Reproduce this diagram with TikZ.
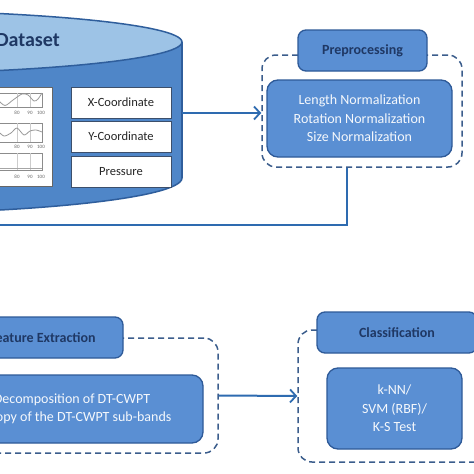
\documentclass[tikz,border=0pt]{standalone}
\usepackage{fontspec}
\setmainfont{Carlito}
\usetikzlibrary{arrows.meta}
\definecolor{cylbody}{HTML}{4F86C8}
\definecolor{cyltop}{HTML}{9DC3E6}
\definecolor{cylline}{HTML}{2F5E9C}
\definecolor{boxfill}{HTML}{5A8FD3}
\definecolor{boxline}{HTML}{2E5A98}
\definecolor{titletext}{HTML}{1F3864}
\definecolor{conn}{HTML}{2E6BB0}
\definecolor{dashc}{HTML}{3B5D8C}
\definecolor{coordline}{HTML}{3C4F6B}
\tikzset{
  dashbox/.style={draw=dashc, line width=1.5pt, dash pattern=on 6pt off 4pt, rounded corners=14pt, minimum width=#1},
  titlebox/.style={draw=boxline, fill=boxfill, line width=1.3pt, rounded corners=8pt, font=\fontsize{14}{17}\selectfont\bfseries, text=titletext},
  innerbox/.style={draw=boxline, fill=boxfill, line width=1.3pt, rounded corners=11pt, font=\fontsize{14}{18.5}\selectfont, text=white!94!boxfill, align=center},
  coordbox/.style={draw=coordline, fill=white, line width=1pt, minimum width=100pt, minimum height=31pt, font=\fontsize{12.5}{15}\selectfont, text=black!85},
  connector/.style={draw=conn, line width=2pt},
  arrowtip/.style={-{Straight Barb[length=6pt,width=13pt,line width=1.8pt]}},
  plotframe/.style={draw=black!45, line width=0.5pt},
  plotcurve/.style={draw=black!40, line width=0.8pt},
  tick/.style={font=\fontsize{5}{5}\selectfont, text=black!60, inner sep=0pt},
}
\begin{document}
\begin{tikzpicture}[x=1pt,y=-1pt]
\useasboundingbox (0,0) rectangle (474,474);
\fill[white] (0,0) rectangle (474,474);
% cylinder
\fill[cylbody, draw=cylline, line width=1.5pt] (-154,178) ellipse[x radius=336, y radius=36];
\fill[cylbody] (-490,42) rectangle (182,178);
\draw[cylline, line width=1.5pt] (182,42) -- (182,178);
\fill[cyltop, draw=cylline, line width=1.5pt] (-154,42) ellipse[x radius=336, y radius=32];
\node[anchor=east, font=\fontsize{20}{24}\selectfont\bfseries, text=titletext, inner sep=0pt] (dstitle) at (60,40) {Dataset};
\coordinate (cylR) at (182,113);
% plots box
\node[draw=black!60, fill=white, line width=0.8pt, minimum width=72pt, minimum height=99pt, inner sep=0pt] (plots) at (16,136.5) {};
\draw[plotframe] (-10,93) rectangle (42,107);
\draw[plotframe] (-10,123) rectangle (42,142);
\draw[plotframe] (-10,153) rectangle (42,170);
\foreach \y/\b in {93/107,123/142,153/170}{
  \draw[black!20, line width=0.3pt] (17,\y) -- (17,\b);
  \draw[black!20, line width=0.3pt] (30,\y) -- (30,\b);
}
\draw[plotcurve] plot[smooth] coordinates {(-2,100) (5,105.5) (13,100) (22,94) (28,95) (34,101) (38,99) (42,93)};
\draw[plotcurve] plot[smooth] coordinates {(-2,131) (4,136) (11,133) (17,128) (24,135) (30,131) (36,130) (42,132)};
\draw[black!35, line width=0.5pt] (-10,168) -- (42,168);
\foreach \y in {113,147,177}{
  \node[tick] at (17,\y) {80};
  \node[tick] at (30,\y) {90};
  \node[tick] at (41,\y) {100};
}
% coordinate boxes
\node[coordbox] (xc) at (121,102.5) {X-Coordinate};
\node[coordbox] (yc) at (121,136.5) {Y-Coordinate};
\node[coordbox] (pr) at (121,172) {Pressure};
% preprocessing
\node[dashbox=200pt, minimum height=112pt] (pdash) at (362,111) {};
\node[titlebox, minimum width=129pt, minimum height=41pt] (ptitle) at (362.5,50.5) {Preprocessing};
\node[innerbox, minimum width=185pt, minimum height=77pt] (pinner) at (359.5,118.5) {Length Normalization\\Rotation Normalization\\Size Normalization};
% feature extraction
\node[dashbox=292pt, minimum height=115pt] (fdash) at (72,395.5) {};
\node[titlebox, minimum width=161pt, minimum height=41pt] (ftitle) at (42.5,337.5) {Feature Extraction};
\node[innerbox, minimum width=262pt, minimum height=68pt] (finner) at (72,409) {Decomposition of DT-CWPT\\Entropy of the DT-CWPT sub-bands};
% classification
\node[dashbox=193pt, minimum height=132pt] (cdash) at (394.5,396) {};
\node[titlebox, minimum width=160pt, minimum height=41pt] (ctitle) at (397,332.5) {Classification};
\node[innerbox, minimum width=135pt, minimum height=81pt] (cinner) at (394.5,408.5) {k-NN/\\SVM (RBF)/\\K-S Test};
% connectors
\coordinate (bend) at (347,225);
\coordinate (leftend) at (-10,225);
\draw[connector, arrowtip] (cylR) -- (pdash.west |- cylR);
\draw[connector] (pdash.south -| bend) -- (bend) -- (leftend);
\draw[connector, arrowtip] (fdash.east) -- (cdash.west);
\end{tikzpicture}
\end{document}
